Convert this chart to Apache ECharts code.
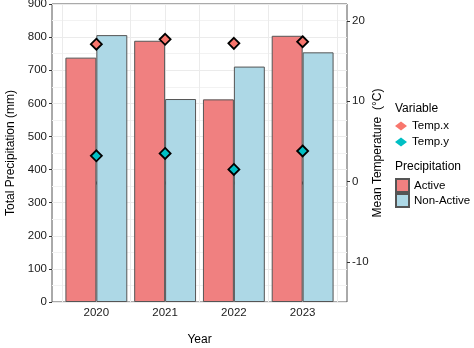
<!DOCTYPE html>
<html>
<head>
<meta charset="utf-8">
<script src="https://cdn.jsdelivr.net/npm/echarts@6/dist/echarts.min.js"></script>
<style>html,body{margin:0;padding:0;background:#fff}#c{width:474px;height:348px}</style>
</head>
<body>
<div id="c"></div>
<script>
const years = [2020, 2021, 2022, 2023];
const activePrecip = [738, 789, 612, 804];
const nonActivePrecip = [806, 613, 711, 754];
const tempX = [17.1, 17.7, 17.2, 17.4];
const tempY = [3.2, 3.5, 1.5, 3.8];
const precipTicks = [0, 100, 200, 300, 400, 500, 600, 700, 800, 900];
const tempTicks = [-10, 0, 10, 20];

const FONT = '"Liberation Sans", Arial, sans-serif';
const halfSteps = [];
years.forEach(y => { halfSteps.push(y - 0.5); halfSteps.push(y); });
halfSteps.push(years[years.length - 1] + 0.5);

const xMin = 2019.355, xMax = 2023.645;
const chart = echarts.init(document.getElementById('c'), null, {renderer: 'canvas'});
const option = {
  animation: false,
  backgroundColor: '#fff',
  textStyle: {fontFamily: FONT},
  grid: {left: 52, top: 4, width: 295, height: 298, show: true, borderColor: '#555', borderWidth: 1, backgroundColor: '#fff', containLabel: false, outerBoundsMode: 'none'},
  xAxis: [{
    type: 'value', min: xMin, max: xMax,
    axisLine: {show: false},
    axisTick: {show: false, customValues: halfSteps},
    axisLabel: {customValues: years, formatter: v => String(v), color: '#1a1a1a', fontSize: 11.5, fontFamily: FONT, margin: 5},
    splitLine: {show: true, lineStyle: {color: '#ebebeb', width: 1}},
    name: 'Year', nameLocation: 'middle', nameGap: 32, nameMoveOverlap: false,
    nameTextStyle: {color: '#000', fontSize: 12, fontFamily: FONT}
  }, {
    type: 'value', min: xMin, max: xMax, position: 'bottom',
    axisLine: {show: false},
    axisTick: {show: true, customValues: years, length: 3, lineStyle: {color: '#333'}},
    axisLabel: {show: false},
    splitLine: {show: false}
  }],
  yAxis: [{
    type: 'value', min: 0, max: 900, interval: 100, position: 'left',
    axisLine: {show: false},
    axisTick: {show: true, length: 3, lineStyle: {color: '#333'}},
    axisLabel: {color: '#1a1a1a', fontSize: 11.5, fontFamily: FONT, margin: 5, customValues: precipTicks},
    splitLine: {show: true, lineStyle: {color: '#ebebeb', width: 1}},
    minorTick: {show: false, splitNumber: 2},
    minorSplitLine: {show: true, lineStyle: {color: '#f2f2f2', width: 1}},
    name: 'Total Precipitation (mm)', nameLocation: 'middle', nameGap: 35, nameMoveOverlap: false,
    nameTextStyle: {color: '#000', fontSize: 12, fontFamily: FONT}
  }, {
    type: 'value', min: -15, max: 22.1, position: 'right',
    axisLine: {show: false},
    axisTick: {show: true, length: 3, lineStyle: {color: '#333'}, customValues: tempTicks},
    axisLabel: {color: '#1a1a1a', fontSize: 11.5, fontFamily: FONT, margin: 5, customValues: tempTicks},
    splitLine: {show: false},
    name: 'Mean Temperature  (°C)', nameLocation: 'middle', nameGap: 25, nameRotate: 90, nameMoveOverlap: false,
    nameTextStyle: {color: '#000', fontSize: 12, fontFamily: FONT}
  }],
  legend: [{
    data: [
      {name: 'Temp.x', icon: 'diamond', itemStyle: {borderWidth: 0}},
      {name: 'Temp.y', icon: 'diamond', itemStyle: {borderWidth: 0}}
    ],
    orient: 'vertical', left: 395, top: 120, padding: 0,
    itemWidth: 12, itemHeight: 9, itemGap: 4,
    textStyle: {fontSize: 11.5, color: '#000', fontFamily: FONT}
  }, {
    data: [{name: 'Active', icon: 'rect'}, {name: 'Non-Active', icon: 'rect'}],
    orient: 'vertical', left: 395, top: 178, padding: 0,
    itemWidth: 13, itemHeight: 13, itemGap: 0,
    textStyle: {fontSize: 11.5, color: '#000', fontFamily: FONT}
  }],
  graphic: [
    {type: 'text', left: 395, top: 103, style: {text: 'Variable', fontSize: 12, fill: '#000', fontFamily: FONT}},
    {type: 'text', left: 395, top: 161, style: {text: 'Precipitation', fontSize: 12, fill: '#000', fontFamily: FONT}}
  ],
  series: [{
    name: 'Active', type: 'bar', xAxisIndex: 0, yAxisIndex: 0,
    data: years.map((y, i) => [y, activePrecip[i]]),
    barWidth: '45%', barGap: '0%',
    itemStyle: {color: '#F08080', borderColor: '#555', borderWidth: 1}
  }, {
    name: 'Non-Active', type: 'bar', xAxisIndex: 0, yAxisIndex: 0,
    data: years.map((y, i) => [y, nonActivePrecip[i]]),
    barWidth: '45%', barGap: '0%',
    itemStyle: {color: '#ADD8E6', borderColor: '#555', borderWidth: 1}
  }, {
    name: 'Temp.x', type: 'scatter', xAxisIndex: 0, yAxisIndex: 1, z: 5,
    data: years.map((y, i) => [y, tempX[i]]),
    symbol: 'diamond', symbolSize: 11,
    itemStyle: {color: '#F8766D', borderColor: '#000', borderWidth: 1.8, opacity: 1}
  }, {
    name: 'Temp.y', type: 'scatter', xAxisIndex: 0, yAxisIndex: 1, z: 5,
    data: years.map((y, i) => [y, tempY[i]]),
    symbol: 'diamond', symbolSize: 11,
    itemStyle: {color: '#00BFC4', borderColor: '#000', borderWidth: 1.8, opacity: 1}
  }]
};
chart.setOption(option);
</script>
</body>
</html>
